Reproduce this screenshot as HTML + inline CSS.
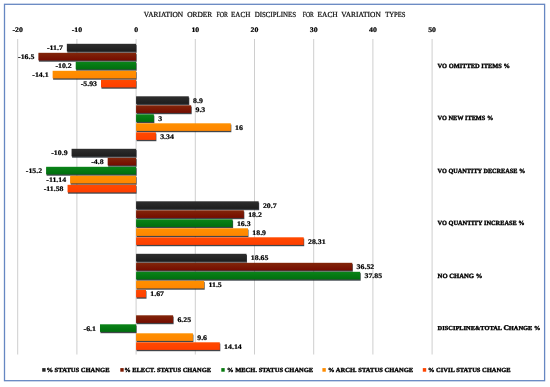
<!DOCTYPE html>
<html><head><meta charset="utf-8"><style>
html,body{margin:0;padding:0;background:#fff;}
body{width:550px;height:387px;overflow:hidden;}
svg{display:block;}
</style></head><body>
<svg width="550" height="387" viewBox="0 0 550 387">
<style>text{font-family:"Liberation Serif",serif;fill:#000;text-rendering:geometricPrecision;}
.b{font-weight:bold;stroke:#000;stroke-width:0.2px;}
.d{font-size:7.0px;}
.c{stroke-width:0.35px;}
.t{font-size:7.7px;stroke:#000;stroke-width:0.2px;}</style>
<defs><linearGradient id="g0" x1="0" y1="0" x2="0" y2="1"><stop offset="0" stop-color="#2e2e2e"/><stop offset="1" stop-color="#1d1d1d"/></linearGradient><linearGradient id="g1" x1="0" y1="0" x2="0" y2="1"><stop offset="0" stop-color="#82260a"/><stop offset="1" stop-color="#750c00"/></linearGradient><linearGradient id="g2" x1="0" y1="0" x2="0" y2="1"><stop offset="0" stop-color="#0a8418"/><stop offset="1" stop-color="#006e0e"/></linearGradient><linearGradient id="g3" x1="0" y1="0" x2="0" y2="1"><stop offset="0" stop-color="#ff9000"/><stop offset="1" stop-color="#ff8600"/></linearGradient><linearGradient id="g4" x1="0" y1="0" x2="0" y2="1"><stop offset="0" stop-color="#ff4a00"/><stop offset="1" stop-color="#ff3e00"/></linearGradient><filter id="bl" x="-5%" y="-50%" width="110%" height="200%"><feGaussianBlur stdDeviation="0.25"/></filter></defs>
<rect x="0" y="0" width="550" height="387" fill="#fff"/>
<rect x="4.5" y="4.3" width="540.1" height="376.4" fill="none" stroke="#6687c2" stroke-width="1.3"/>
<text class="t" x="143.8" y="17.1" textLength="39.3" lengthAdjust="spacingAndGlyphs">VARIATION</text>
<text class="t" x="187.2" y="17.1" textLength="25.0" lengthAdjust="spacingAndGlyphs">ORDER</text>
<text class="t" x="216.4" y="17.1" textLength="11.5" lengthAdjust="spacingAndGlyphs">FOR</text>
<text class="t" x="231.0" y="17.1" textLength="19.3" lengthAdjust="spacingAndGlyphs">EACH</text>
<text class="t" x="254.7" y="17.1" textLength="41.3" lengthAdjust="spacingAndGlyphs">DISCIPLINES</text>
<text class="t" x="302.8" y="17.1" textLength="11.1" lengthAdjust="spacingAndGlyphs">FOR</text>
<text class="t" x="317.5" y="17.1" textLength="20.2" lengthAdjust="spacingAndGlyphs">EACH</text>
<text class="t" x="341.3" y="17.1" textLength="39.5" lengthAdjust="spacingAndGlyphs">VARIATION</text>
<text class="t" x="385.2" y="17.1" textLength="20.4" lengthAdjust="spacingAndGlyphs">TYPES</text>
<line x1="17.70" y1="39" x2="17.70" y2="354.5" stroke="#c8c8c8" stroke-width="0.9"/>
<line x1="76.90" y1="39" x2="76.90" y2="354.5" stroke="#c8c8c8" stroke-width="0.9"/>
<line x1="136.10" y1="39" x2="136.10" y2="354.5" stroke="#c8c8c8" stroke-width="0.9"/>
<line x1="195.30" y1="39" x2="195.30" y2="354.5" stroke="#c8c8c8" stroke-width="0.9"/>
<line x1="254.50" y1="39" x2="254.50" y2="354.5" stroke="#c8c8c8" stroke-width="0.9"/>
<line x1="313.70" y1="39" x2="313.70" y2="354.5" stroke="#c8c8c8" stroke-width="0.9"/>
<line x1="372.90" y1="39" x2="372.90" y2="354.5" stroke="#c8c8c8" stroke-width="0.9"/>
<line x1="432.10" y1="39" x2="432.10" y2="354.5" stroke="#c8c8c8" stroke-width="0.9"/>
<text class="b d" text-anchor="middle" transform="translate(17.70,32.2) scale(1.12,1)">-20</text>
<text class="b d" text-anchor="middle" transform="translate(76.90,32.2) scale(1.12,1)">-10</text>
<text class="b d" text-anchor="middle" transform="translate(136.10,32.2) scale(1.12,1)">0</text>
<text class="b d" text-anchor="middle" transform="translate(195.30,32.2) scale(1.12,1)">10</text>
<text class="b d" text-anchor="middle" transform="translate(254.50,32.2) scale(1.12,1)">20</text>
<text class="b d" text-anchor="middle" transform="translate(313.70,32.2) scale(1.12,1)">30</text>
<text class="b d" text-anchor="middle" transform="translate(372.90,32.2) scale(1.12,1)">40</text>
<text class="b d" text-anchor="middle" transform="translate(432.10,32.2) scale(1.12,1)">50</text>
<rect x="67.34" y="45.10" width="69.26" height="7.6" fill="#1e242c" fill-opacity="0.85" filter="url(#bl)"/>
<rect x="66.84" y="43.80" width="69.26" height="7.6" fill="url(#g0)"/>
<rect x="38.92" y="54.10" width="97.68" height="7.6" fill="#1e242c" fill-opacity="0.85" filter="url(#bl)"/>
<rect x="38.42" y="52.80" width="97.68" height="7.6" fill="url(#g1)"/>
<rect x="76.22" y="63.10" width="60.38" height="7.6" fill="#1e242c" fill-opacity="0.85" filter="url(#bl)"/>
<rect x="75.72" y="61.80" width="60.38" height="7.6" fill="url(#g2)"/>
<rect x="53.13" y="72.10" width="83.47" height="7.6" fill="#1e242c" fill-opacity="0.85" filter="url(#bl)"/>
<rect x="52.63" y="70.80" width="83.47" height="7.6" fill="url(#g3)"/>
<rect x="101.49" y="81.10" width="35.11" height="7.6" fill="#1e242c" fill-opacity="0.85" filter="url(#bl)"/>
<rect x="100.99" y="79.80" width="35.11" height="7.6" fill="url(#g4)"/>
<text class="b d" text-anchor="end" transform="translate(62.84,50.25) scale(1.12,1)">-11.7</text>
<text class="b d" text-anchor="end" transform="translate(34.42,59.25) scale(1.12,1)">-16.5</text>
<text class="b d" text-anchor="end" transform="translate(71.72,68.25) scale(1.12,1)">-10.2</text>
<text class="b d" text-anchor="end" transform="translate(48.63,77.25) scale(1.12,1)">-14.1</text>
<text class="b d" text-anchor="end" transform="translate(96.99,86.25) scale(1.12,1)">-5.93</text>
<text class="b c" x="437.6" y="67.85" font-size="6.4" textLength="72.3" lengthAdjust="spacingAndGlyphs">VO OMITTED ITEMS %</text>
<rect x="136.60" y="97.60" width="52.69" height="7.6" fill="#1e242c" fill-opacity="0.85" filter="url(#bl)"/>
<rect x="136.10" y="96.30" width="52.69" height="7.6" fill="url(#g0)"/>
<rect x="136.60" y="106.60" width="55.06" height="7.6" fill="#1e242c" fill-opacity="0.85" filter="url(#bl)"/>
<rect x="136.10" y="105.30" width="55.06" height="7.6" fill="url(#g1)"/>
<rect x="136.60" y="115.60" width="17.76" height="7.6" fill="#1e242c" fill-opacity="0.85" filter="url(#bl)"/>
<rect x="136.10" y="114.30" width="17.76" height="7.6" fill="url(#g2)"/>
<rect x="136.60" y="124.60" width="94.72" height="7.6" fill="#1e242c" fill-opacity="0.85" filter="url(#bl)"/>
<rect x="136.10" y="123.30" width="94.72" height="7.6" fill="url(#g3)"/>
<rect x="136.60" y="133.60" width="19.77" height="7.6" fill="#1e242c" fill-opacity="0.85" filter="url(#bl)"/>
<rect x="136.10" y="132.30" width="19.77" height="7.6" fill="url(#g4)"/>
<text class="b d" transform="translate(193.09,102.75) scale(1.12,1)">8.9</text>
<text class="b d" transform="translate(195.46,111.75) scale(1.12,1)">9.3</text>
<text class="b d" transform="translate(158.16,120.75) scale(1.12,1)">3</text>
<text class="b d" transform="translate(235.12,129.75) scale(1.12,1)">16</text>
<text class="b d" transform="translate(160.17,138.75) scale(1.12,1)">3.34</text>
<text class="b c" x="437.6" y="120.35" font-size="6.4" textLength="55.6" lengthAdjust="spacingAndGlyphs">VO NEW ITEMS %</text>
<rect x="72.07" y="150.10" width="64.53" height="7.6" fill="#1e242c" fill-opacity="0.85" filter="url(#bl)"/>
<rect x="71.57" y="148.80" width="64.53" height="7.6" fill="url(#g0)"/>
<rect x="108.18" y="159.10" width="28.42" height="7.6" fill="#1e242c" fill-opacity="0.85" filter="url(#bl)"/>
<rect x="107.68" y="157.80" width="28.42" height="7.6" fill="url(#g1)"/>
<rect x="46.62" y="168.10" width="89.98" height="7.6" fill="#1e242c" fill-opacity="0.85" filter="url(#bl)"/>
<rect x="46.12" y="166.80" width="89.98" height="7.6" fill="url(#g2)"/>
<rect x="70.65" y="177.10" width="65.95" height="7.6" fill="#1e242c" fill-opacity="0.85" filter="url(#bl)"/>
<rect x="70.15" y="175.80" width="65.95" height="7.6" fill="url(#g3)"/>
<rect x="68.05" y="186.10" width="68.55" height="7.6" fill="#1e242c" fill-opacity="0.85" filter="url(#bl)"/>
<rect x="67.55" y="184.80" width="68.55" height="7.6" fill="url(#g4)"/>
<text class="b d" text-anchor="end" transform="translate(67.57,155.25) scale(1.12,1)">-10.9</text>
<text class="b d" text-anchor="end" transform="translate(103.68,164.25) scale(1.12,1)">-4.8</text>
<text class="b d" text-anchor="end" transform="translate(42.12,173.25) scale(1.12,1)">-15.2</text>
<text class="b d" text-anchor="end" transform="translate(66.15,182.25) scale(1.12,1)">-11.14</text>
<text class="b d" text-anchor="end" transform="translate(63.55,191.25) scale(1.12,1)">-11.58</text>
<text class="b c" x="437.6" y="172.85" font-size="6.4" textLength="87.6" lengthAdjust="spacingAndGlyphs">VO QUANTITY DECREASE %</text>
<rect x="136.60" y="202.60" width="122.54" height="7.6" fill="#1e242c" fill-opacity="0.85" filter="url(#bl)"/>
<rect x="136.10" y="201.30" width="122.54" height="7.6" fill="url(#g0)"/>
<rect x="136.60" y="211.60" width="107.74" height="7.6" fill="#1e242c" fill-opacity="0.85" filter="url(#bl)"/>
<rect x="136.10" y="210.30" width="107.74" height="7.6" fill="url(#g1)"/>
<rect x="136.60" y="220.60" width="96.50" height="7.6" fill="#1e242c" fill-opacity="0.85" filter="url(#bl)"/>
<rect x="136.10" y="219.30" width="96.50" height="7.6" fill="url(#g2)"/>
<rect x="136.60" y="229.60" width="111.89" height="7.6" fill="#1e242c" fill-opacity="0.85" filter="url(#bl)"/>
<rect x="136.10" y="228.30" width="111.89" height="7.6" fill="url(#g3)"/>
<rect x="136.60" y="238.60" width="167.60" height="7.6" fill="#1e242c" fill-opacity="0.85" filter="url(#bl)"/>
<rect x="136.10" y="237.30" width="167.60" height="7.6" fill="url(#g4)"/>
<text class="b d" transform="translate(262.94,207.75) scale(1.12,1)">20.7</text>
<text class="b d" transform="translate(248.14,216.75) scale(1.12,1)">18.2</text>
<text class="b d" transform="translate(236.90,225.75) scale(1.12,1)">16.3</text>
<text class="b d" transform="translate(252.29,234.75) scale(1.12,1)">18.9</text>
<text class="b d" transform="translate(308.00,243.75) scale(1.12,1)">28.31</text>
<text class="b c" x="437.6" y="225.35" font-size="6.4" textLength="87.0" lengthAdjust="spacingAndGlyphs">VO QUANTITY INCREASE %</text>
<rect x="136.60" y="255.10" width="110.41" height="7.6" fill="#1e242c" fill-opacity="0.85" filter="url(#bl)"/>
<rect x="136.10" y="253.80" width="110.41" height="7.6" fill="url(#g0)"/>
<rect x="136.60" y="264.10" width="216.20" height="7.6" fill="#1e242c" fill-opacity="0.85" filter="url(#bl)"/>
<rect x="136.10" y="262.80" width="216.20" height="7.6" fill="url(#g1)"/>
<rect x="136.60" y="273.10" width="224.07" height="7.6" fill="#1e242c" fill-opacity="0.85" filter="url(#bl)"/>
<rect x="136.10" y="271.80" width="224.07" height="7.6" fill="url(#g2)"/>
<rect x="136.60" y="282.10" width="68.08" height="7.6" fill="#1e242c" fill-opacity="0.85" filter="url(#bl)"/>
<rect x="136.10" y="280.80" width="68.08" height="7.6" fill="url(#g3)"/>
<rect x="136.60" y="291.10" width="9.89" height="7.6" fill="#1e242c" fill-opacity="0.85" filter="url(#bl)"/>
<rect x="136.10" y="289.80" width="9.89" height="7.6" fill="url(#g4)"/>
<text class="b d" transform="translate(250.81,260.25) scale(1.12,1)">18.65</text>
<text class="b d" transform="translate(356.60,269.25) scale(1.12,1)">36.52</text>
<text class="b d" transform="translate(364.47,278.25) scale(1.12,1)">37.85</text>
<text class="b d" transform="translate(208.48,287.25) scale(1.12,1)">11.5</text>
<text class="b d" transform="translate(150.29,296.25) scale(1.12,1)">1.67</text>
<text class="b c" x="437.6" y="277.85" font-size="6.4" textLength="44.7" lengthAdjust="spacingAndGlyphs">NO CHANG %</text>
<rect x="136.60" y="316.60" width="37.00" height="7.6" fill="#1e242c" fill-opacity="0.85" filter="url(#bl)"/>
<rect x="136.10" y="315.30" width="37.00" height="7.6" fill="url(#g1)"/>
<rect x="100.49" y="325.60" width="36.11" height="7.6" fill="#1e242c" fill-opacity="0.85" filter="url(#bl)"/>
<rect x="99.99" y="324.30" width="36.11" height="7.6" fill="url(#g2)"/>
<rect x="136.60" y="334.60" width="56.83" height="7.6" fill="#1e242c" fill-opacity="0.85" filter="url(#bl)"/>
<rect x="136.10" y="333.30" width="56.83" height="7.6" fill="url(#g3)"/>
<rect x="136.60" y="343.60" width="83.71" height="7.6" fill="#1e242c" fill-opacity="0.85" filter="url(#bl)"/>
<rect x="136.10" y="342.30" width="83.71" height="7.6" fill="url(#g4)"/>
<text class="b d" transform="translate(177.40,321.75) scale(1.12,1)">6.25</text>
<text class="b d" text-anchor="end" transform="translate(95.99,330.75) scale(1.12,1)">-6.1</text>
<text class="b d" transform="translate(197.23,339.75) scale(1.12,1)">9.6</text>
<text class="b d" transform="translate(224.11,348.75) scale(1.12,1)">14.14</text>
<text class="b c" x="437.6" y="330.15" font-size="6.0" textLength="102.8" lengthAdjust="spacingAndGlyphs">DISCIPLINE&amp;TOTAL <tspan font-size="7.1">C</tspan>HANGE %</text>
<rect x="42.199999999999996" y="368.1" width="3.4" height="3.6" fill="#262626"/>
<text class="b c" x="46.4" y="371.6" font-size="6.3" textLength="63.2" lengthAdjust="spacingAndGlyphs">% STATUS CHANGE</text>
<rect x="120.3" y="368.1" width="3.4" height="3.6" fill="#7c1a02"/>
<text class="b c" x="124.2" y="371.6" font-size="6.3" textLength="86.8" lengthAdjust="spacingAndGlyphs">% ELECT. STATUS CHANGE</text>
<rect x="221.3" y="368.1" width="3.4" height="3.6" fill="#077a0e"/>
<text class="b c" x="227" y="371.6" font-size="6.3" textLength="86.2" lengthAdjust="spacingAndGlyphs">% MECH. STATUS CHANGE</text>
<rect x="322.40000000000003" y="368.1" width="3.4" height="3.6" fill="#ff8c00"/>
<text class="b c" x="328" y="371.6" font-size="6.3" textLength="85.2" lengthAdjust="spacingAndGlyphs">% ARCH. STATUS CHANGE</text>
<rect x="422.8" y="368.1" width="3.4" height="3.6" fill="#ff4500"/>
<text class="b c" x="428" y="371.6" font-size="6.3" textLength="82.6" lengthAdjust="spacingAndGlyphs">% CIVIL STATUS CHANGE</text>
</svg>
</body></html>
